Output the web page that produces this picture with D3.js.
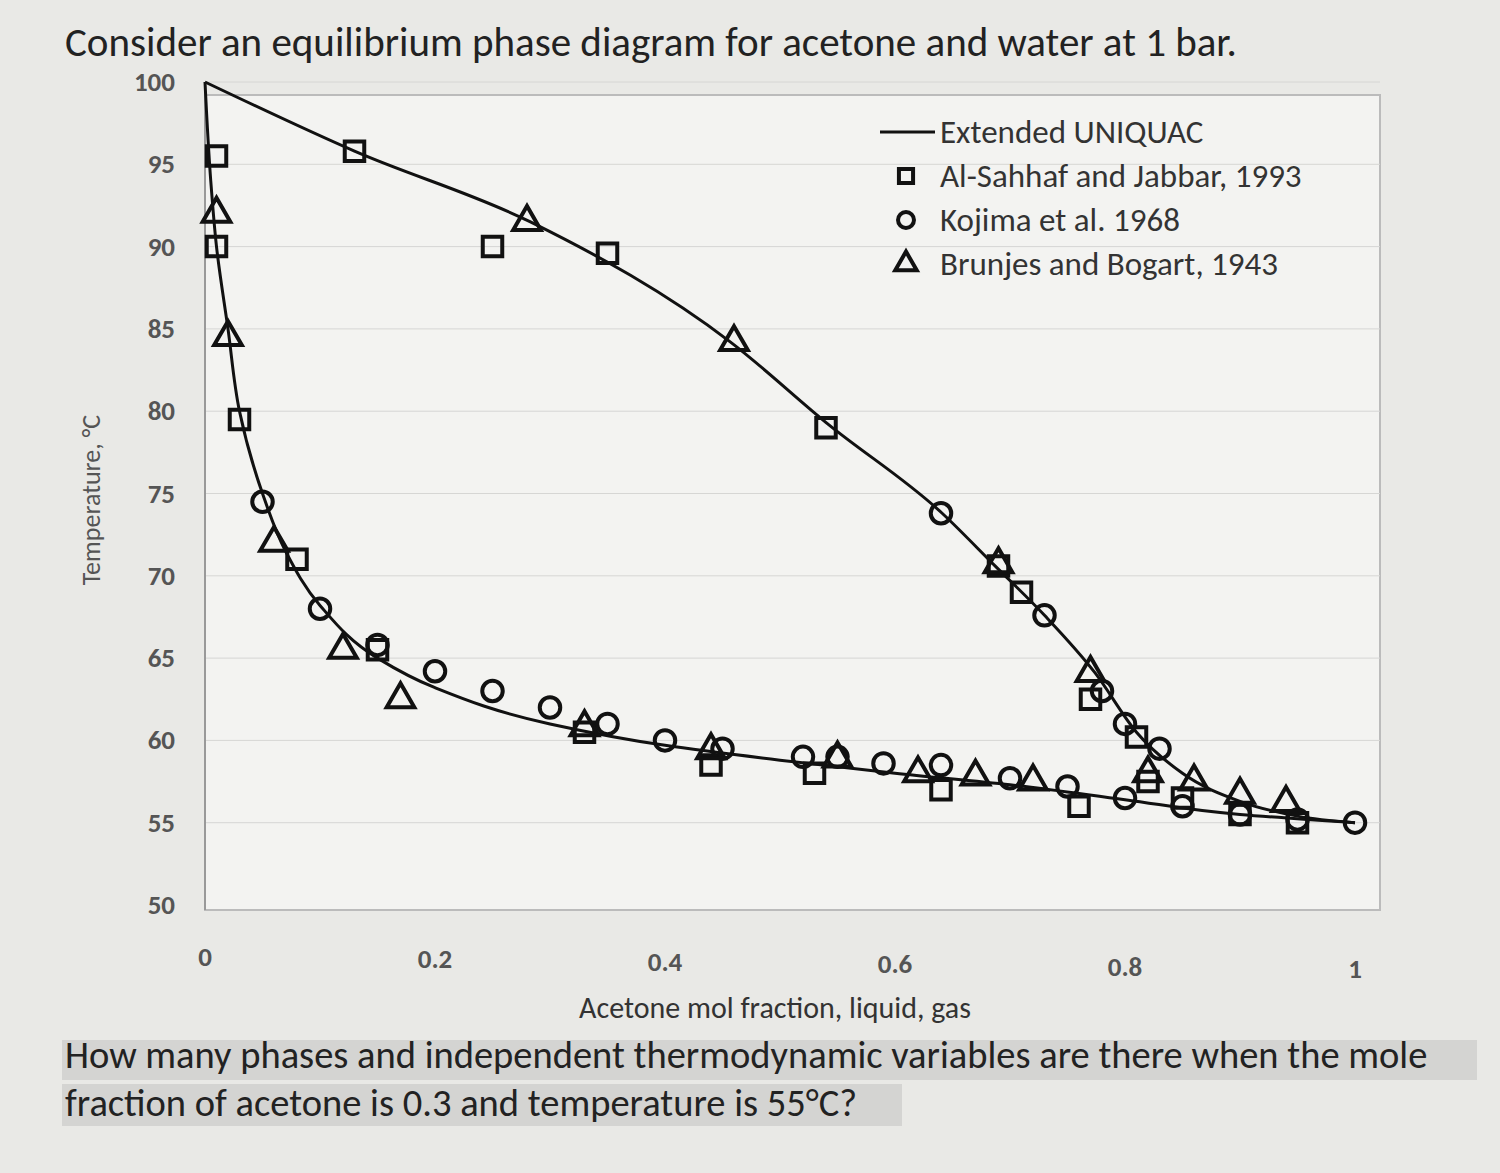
<!DOCTYPE html>
<html><head><meta charset="utf-8">
<script src="https://cdn.jsdelivr.net/npm/d3@7"></script>
<style>body{margin:0;background:#e9e9e6;font-family:Calibri,"Liberation Sans","Open Sans",sans-serif}</style>
</head><body><svg id="c" width="1500" height="1173"></svg>
<script>
const xTicks=[0,0.2,0.4,0.6,0.8,1];
const yTicks=[50,55,60,65,70,75,80,85,90,95,100];
const dewX=[0,0.13,0.283,0.457,0.542,0.641,0.687,0.73,0.774,0.81,0.85,0.9,0.95,1];
const dewT=[100,95.8,91.5,84.2,79.2,73.8,70.6,67.6,64.1,60.5,58,56.3,55.4,55];
const bubX=[0,0.005,0.01,0.02,0.03,0.05,0.07,0.1,0.15,0.2,0.3,0.4,0.5,0.6,0.7,0.8,0.9,1];
const bubT=[100,94,90,85,80,75,71.5,68.2,65,63.2,61,59.7,58.8,58,57.3,56.4,55.5,55];
const sqX=[0.01,0.01,0.03,0.08,0.15,0.25,0.35,0.13,0.54,0.33,0.44,0.53,0.64,0.76,0.69,0.71,0.77,0.81,0.82,0.85,0.9,0.95];
const sqT=[95.5,90,79.5,71,65.5,90,89.6,95.8,79,60.5,58.5,58,57,56,70.6,69,62.5,60.2,57.5,56.5,55.5,55];
const ciX=[0.05,0.1,0.15,0.2,0.25,0.3,0.35,0.4,0.45,0.52,0.55,0.59,0.64,0.7,0.75,0.8,0.85,0.9,0.95,1,0.64,0.73,0.78,0.8,0.83];
const ciT=[74.5,68,65.8,64.2,63,62,61,60,59.5,59,59,58.6,58.5,57.7,57.2,56.5,56,55.5,55.2,55,73.8,67.6,63,61,59.5];
const trX=[0.01,0.02,0.06,0.12,0.17,0.28,0.46,0.69,0.77,0.33,0.44,0.55,0.62,0.67,0.72,0.82,0.86,0.9,0.94];
const trT=[92,84.5,72,65.5,62.5,91.5,84.2,70.7,64.1,60.8,59.4,58.9,58,57.8,57.5,58,57.5,56.7,56.2];
const legend=["Extended UNIQUAC","Al-Sahhaf and Jabbar, 1993","Kojima et al. 1968","Brunjes and Bogart, 1943"];

const svg=d3.select("#c");
const x=d3.scaleLinear().domain([0,1]).range([205,1355]);
const y=d3.scaleLinear().domain([50,100]).range([905,82]);
svg.append("rect").attr("x",205).attr("y",95).attr("width",1175).attr("height",815).attr("fill","#f3f3f1").attr("stroke","#bbb").attr("stroke-width",2);
svg.append("g").selectAll("line").data(yTicks.slice(1)).join("line").attr("x1",205).attr("x2",1380).attr("y1",d=>y(d)).attr("y2",d=>y(d)).attr("stroke","#d6d6d4");
svg.append("line").attr("x1",205).attr("x2",205).attr("y1",82).attr("y2",910).attr("stroke","#999").attr("stroke-width",2);
svg.append("g").selectAll("text").data(yTicks).join("text").attr("x",175).attr("y",d=>y(d)+9).attr("text-anchor","end").attr("font-size",27).attr("font-weight","bold").attr("fill","#555").text(d=>d);
svg.append("g").selectAll("text").data(xTicks).join("text").attr("x",d=>x(d)).attr("y",d=>966+d*12).attr("text-anchor","middle").attr("font-size",27).attr("font-weight","bold").attr("fill","#555").text(d=>d);
svg.append("text").attr("x",775).attr("y",1018).attr("text-anchor","middle").attr("font-size",30).attr("fill","#333").text("Acetone mol fraction, liquid, gas");
svg.append("text").attr("transform","translate(100,500) rotate(-90)").attr("text-anchor","middle").attr("font-size",26).attr("fill","#555").text("Temperature, °C");
svg.append("text").attr("x",65).attr("y",56).attr("font-size",41).attr("fill","#222").text("Consider an equilibrium phase diagram for acetone and water at 1 bar.");
svg.append("rect").attr("x",62).attr("y",1040).attr("width",1415).attr("height",40).attr("fill","#d4d4d2");
svg.append("rect").attr("x",62).attr("y",1084).attr("width",840).attr("height",42).attr("fill","#d4d4d2");
svg.append("text").attr("x",65).attr("y",1068).attr("font-size",38.5).attr("fill","#222").text("How many phases and independent thermodynamic variables are there when the mole");
svg.append("text").attr("x",65).attr("y",1116).attr("font-size",38.5).attr("fill","#222").text("fraction of acetone is 0.3 and temperature is 55°C?");
const line=d3.line().curve(d3.curveMonotoneX);
svg.append("path").attr("d",line(dewX.map((v,i)=>[x(v),y(dewT[i])]))).attr("fill","none").attr("stroke","#111").attr("stroke-width",3);
svg.append("path").attr("d",d3.line().curve(d3.curveMonotoneY)(bubX.map((v,i)=>[x(v),y(bubT[i])]))).attr("fill","none").attr("stroke","#111").attr("stroke-width",3);
const st={fill:"none",stroke:"#111","stroke-width":4};
function mk(g,sym,size){Object.entries(st).forEach(([k,v])=>g.attr(k,v));g.attr("d",d3.symbol().type(sym).size(size));}
svg.append("g").selectAll("path").data(sqX.map((v,i)=>[v,sqT[i]])).join("path").attr("transform",d=>`translate(${x(d[0])},${y(d[1])})`).call(g=>mk(g,d3.symbolSquare,380));
svg.append("g").selectAll("path").data(ciX.map((v,i)=>[v,ciT[i]])).join("path").attr("transform",d=>`translate(${x(d[0])},${y(d[1])})`).call(g=>mk(g,d3.symbolCircle,330));
svg.append("g").selectAll("path").data(trX.map((v,i)=>[v,trT[i]])).join("path").attr("transform",d=>`translate(${x(d[0])},${y(d[1])})`).call(g=>mk(g,d3.symbolTriangle,330));
const lg=svg.append("g");
const syms=[null,d3.symbolSquare,d3.symbolCircle,d3.symbolTriangle];
legend.forEach((t,i)=>{const yy=132+i*44;
 if(i==0)lg.append("line").attr("x1",880).attr("x2",935).attr("y1",yy).attr("y2",yy).attr("stroke","#111").attr("stroke-width",3);
 else lg.append("path").attr("transform",`translate(906,${yy})`).call(g=>mk(g,syms[i],200));
 lg.append("text").attr("x",940).attr("y",yy+11).attr("font-size",33).attr("fill","#333").text(t);});
</script></body></html>
